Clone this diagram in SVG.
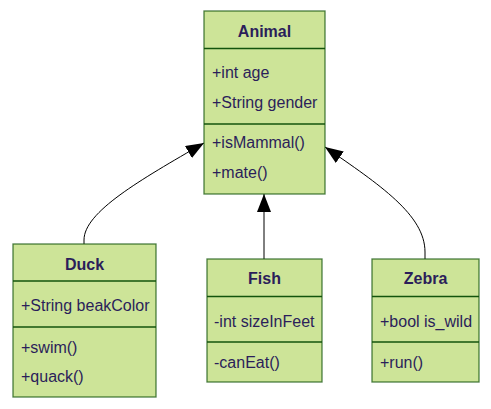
<svg xmlns="http://www.w3.org/2000/svg" width="491" height="409" viewBox="0 0 491 409">
<style>
.box{fill:#cde498;stroke:#13540c;stroke-opacity:0.75;stroke-width:1.3}
.div{stroke:#13540c;stroke-width:1.3}
text{font-family:"Liberation Sans",Arial,sans-serif;font-size:16px;fill:#2b1e5a}
.t{font-weight:bold;text-anchor:middle}
.edge{fill:none;stroke:#000;stroke-width:1}
</style>
<defs>
<marker id="arr" markerUnits="userSpaceOnUse" markerWidth="20" markerHeight="14" refX="18" refY="7" orient="auto">
<path d="M0,0 L18,7 L0,14 z" fill="#000"/>
</marker>
</defs>
<g id="edges">
<path class="edge" d="M84,244 L84,240 C84,212 140,180 204,143" marker-end="url(#arr)"/>
<path class="edge" d="M264,259 L264,194" marker-end="url(#arr)"/>
<path class="edge" d="M425,259 L425,252 C425,215 380,185 325,147" marker-end="url(#arr)"/>
</g>
<g id="Animal">
<rect class="box" x="204" y="11" width="121" height="183"/>
<line class="div" x1="204" y1="48.5" x2="325" y2="48.5"/>
<line class="div" x1="204" y1="124" x2="325" y2="124"/>
<text class="t" x="264.5" y="37">Animal</text>
<text x="212" y="78">+int age</text>
<text x="212" y="108">+String gender</text>
<text x="212" y="148">+isMammal()</text>
<text x="212" y="178">+mate()</text>
</g>
<g id="Duck">
<rect class="box" x="13" y="244" width="143" height="153"/>
<line class="div" x1="13" y1="281" x2="156" y2="281"/>
<line class="div" x1="13" y1="327" x2="156" y2="327"/>
<text class="t" x="84.5" y="270">Duck</text>
<text x="21" y="311">+String beakColor</text>
<text x="21" y="353">+swim()</text>
<text x="21" y="382">+quack()</text>
</g>
<g id="Fish">
<rect class="box" x="207" y="259" width="115" height="123"/>
<line class="div" x1="207" y1="296.5" x2="322" y2="296.5"/>
<line class="div" x1="207" y1="342" x2="322" y2="342"/>
<text class="t" x="264.5" y="284">Fish</text>
<text x="214" y="327">-int sizeInFeet</text>
<text x="214" y="368">-canEat()</text>
</g>
<g id="Zebra">
<rect class="box" x="372" y="259" width="107" height="123"/>
<line class="div" x1="372" y1="296.5" x2="479" y2="296.5"/>
<line class="div" x1="372" y1="342" x2="479" y2="342"/>
<text class="t" x="425.5" y="284">Zebra</text>
<text x="380" y="327">+bool is_wild</text>
<text x="380" y="368">+run()</text>
</g>
</svg>
